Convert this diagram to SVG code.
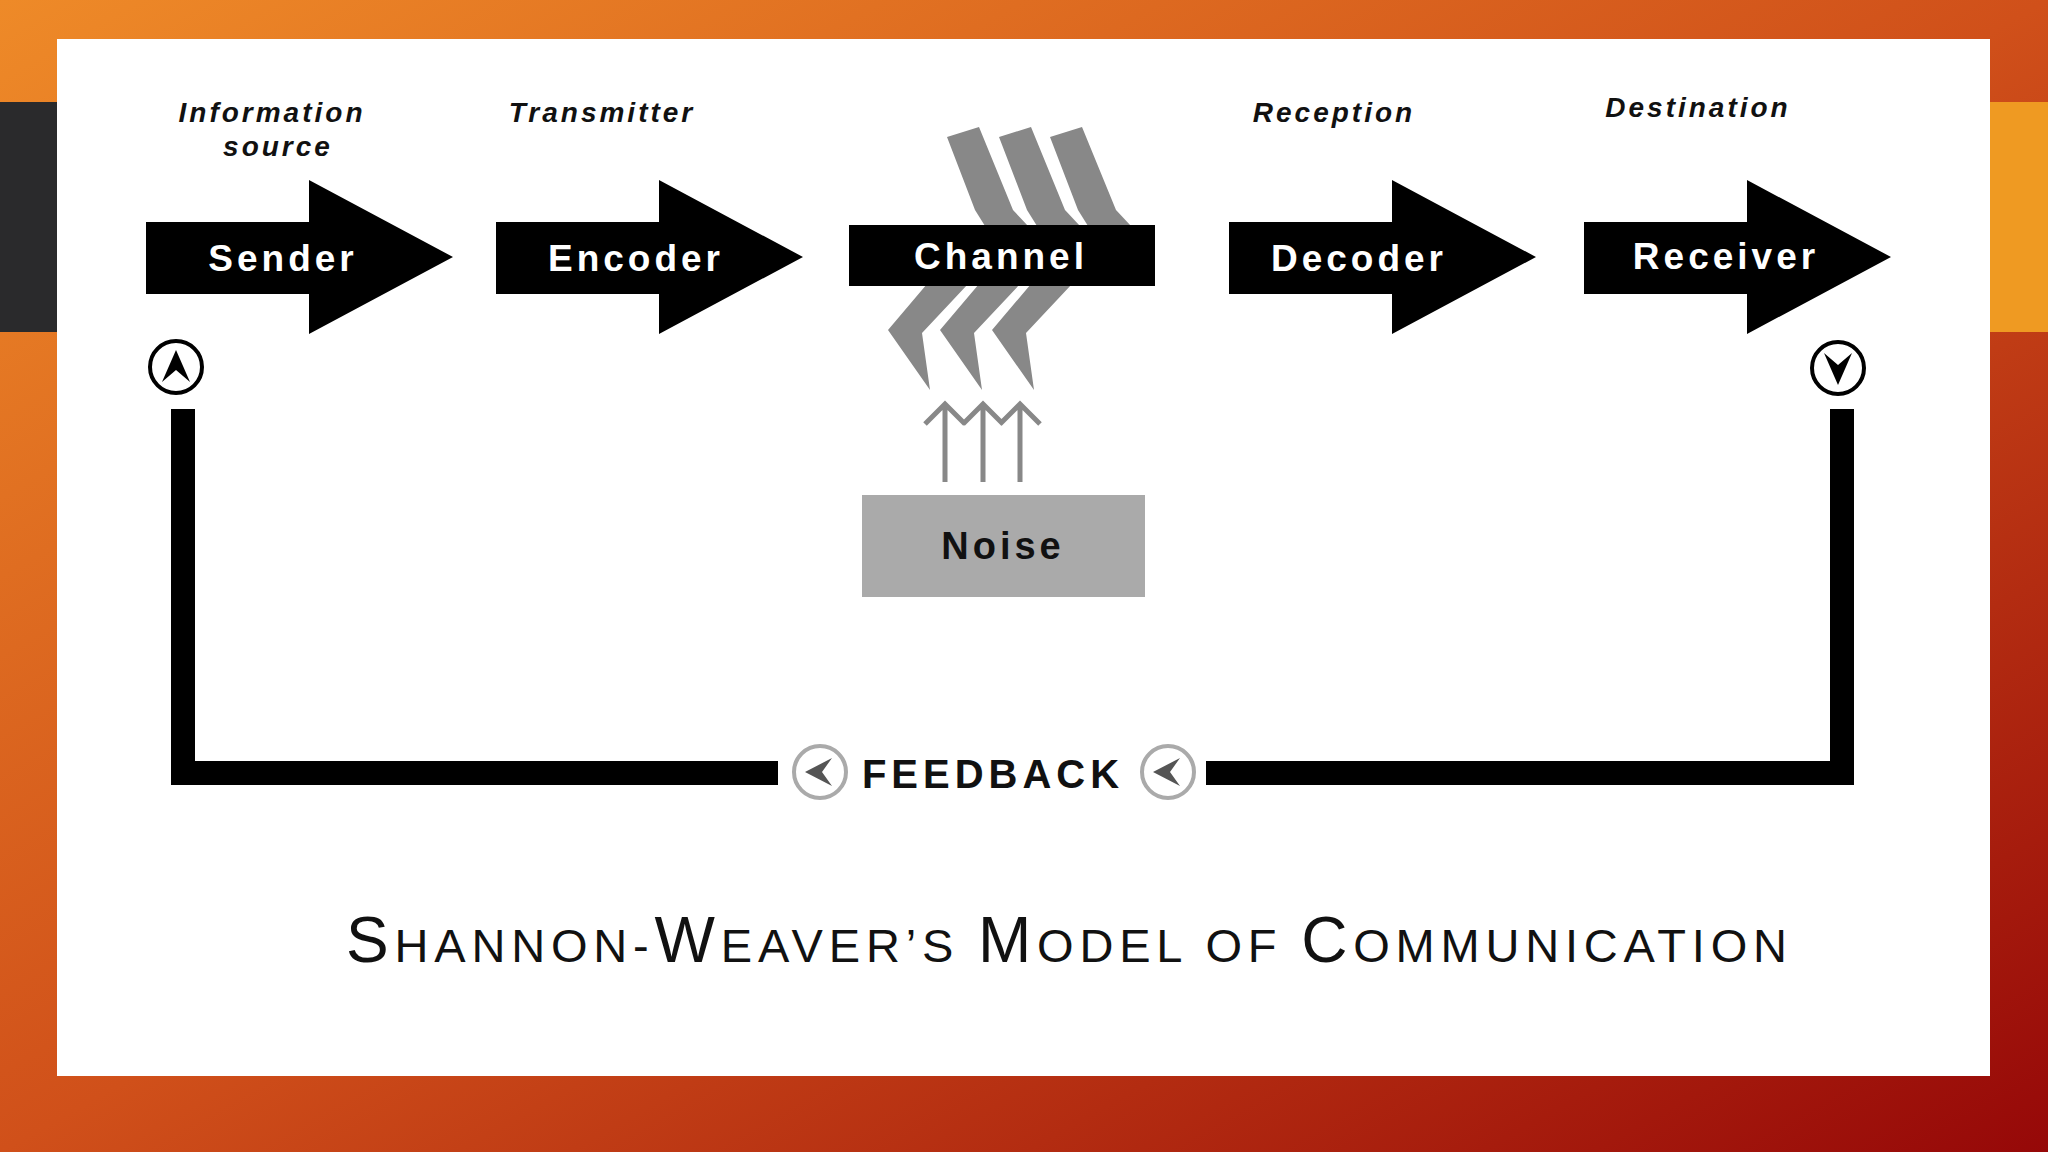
<svg xmlns="http://www.w3.org/2000/svg" width="2048" height="1152" viewBox="0 0 2048 1152">
<defs>
<linearGradient id="bg" x1="0" y1="0" x2="1" y2="1">
<stop offset="0" stop-color="#ee8a28"/><stop offset="0.5" stop-color="#d0501a"/><stop offset="1" stop-color="#960808"/>
</linearGradient>
<path id="arr" d="M0,222 H163 V180 L307,257 L163,334 V294 H0 Z" fill="#000"/>
</defs>
<style>
.lbl{font-family:"Liberation Sans",Arial,sans-serif;font-weight:bold;font-size:37px;fill:#fff;text-anchor:middle;letter-spacing:4px}
.top{font-family:"Liberation Sans",Arial,sans-serif;font-weight:bold;font-style:italic;font-size:28px;fill:#111;text-anchor:middle;letter-spacing:3px}
.bolt{fill:#888}
.na{stroke:#888;stroke-width:5;fill:none}
.fb{stroke:#000;stroke-width:24;fill:none}
</style>
<rect width="2048" height="1152" fill="url(#bg)"/>
<rect x="0" y="102" width="57" height="230" fill="#2a2a2c"/>
<rect x="1990" y="102" width="58" height="230" fill="#ef9a22"/>
<rect x="57" y="39" width="1933" height="1037" fill="#fff"/>

<g id="labels">
<text class="top" x="272" y="122">Information</text>
<text class="top" x="278" y="156">source</text>
<text class="top" x="602" y="122">Transmitter</text>
<text class="top" x="1334" y="122">Reception</text>
<text class="top" x="1698" y="117">Destination</text>
</g>

<g id="noise-bolts">
<polygon class="bolt" points="947,137 979,127 1013,210 1028,226 985,226 975,210"/>
<polygon class="bolt" points="999,137 1031,127 1065,210 1080,226 1037,226 1027,210"/>
<polygon class="bolt" points="1050,137 1082,127 1116,210 1131,226 1088,226 1078,210"/>
<polygon class="bolt" points="927,284 968,284 922,333 930,390 888,330"/>
<polygon class="bolt" points="979,284 1020,284 974,333 982,390 940,330"/>
<polygon class="bolt" points="1031,284 1072,284 1026,333 1034,390 992,330"/>
</g>

<g id="sender"><use href="#arr" x="146"/><text class="lbl" x="283" y="271">Sender</text></g>
<g id="encoder"><use href="#arr" x="496"/><text class="lbl" x="636" y="271">Encoder</text></g>
<g id="channel"><rect x="849" y="225" width="306" height="61" fill="#000"/><text class="lbl" x="1001" y="269">Channel</text></g>
<g id="decoder"><use href="#arr" x="1229"/><text class="lbl" x="1359" y="271">Decoder</text></g>
<g id="receiver"><use href="#arr" x="1584"/><text class="lbl" x="1726" y="269">Receiver</text></g>

<g id="noise">
<path class="na" d="M945,482 V404 M925,424 L945,404 L965,424 M983,482 V404 M963,424 L983,404 L1003,424 M1020,482 V404 M1000,424 L1020,404 L1040,424"/>
<rect x="862" y="495" width="283" height="102" fill="#aaa"/>
<text x="1003" y="559" font-family="Liberation Sans,Arial,sans-serif" font-weight="bold" font-size="38" letter-spacing="4" text-anchor="middle" fill="#111">Noise</text>
</g>

<g id="connectors">
<path class="fb" d="M183,409 V773 H778"/>
<path class="fb" d="M1206,773 H1842 V409"/>
<circle cx="176" cy="367" r="26" fill="#fff" stroke="#000" stroke-width="4"/>
<path d="M162,382 L176,350 L190,382 L176,370 Z" fill="#000"/>
<circle cx="1838" cy="368" r="26" fill="#fff" stroke="#000" stroke-width="4"/>
<path d="M1824,353 L1838,385 L1852,353 L1838,365 Z" fill="#000"/>
<circle cx="820" cy="772" r="26" fill="#fff" stroke="#aaa" stroke-width="4"/>
<path d="M832,758 L805,772 L832,786 L822,772 Z" fill="#555"/>
<circle cx="1168" cy="772" r="26" fill="#fff" stroke="#aaa" stroke-width="4"/>
<path d="M1180,758 L1153,772 L1180,786 L1170,772 Z" fill="#555"/>
<text x="993" y="788" font-family="Liberation Sans,Arial,sans-serif" font-weight="bold" font-size="40" letter-spacing="5" text-anchor="middle" fill="#111">FEEDBACK</text>
</g>

<text x="346" y="962" textLength="1441" lengthAdjust="spacing" font-family="Liberation Sans,Arial,sans-serif" fill="#111" font-size="47"><tspan font-size="64">S</tspan>HANNON-<tspan font-size="64">W</tspan>EAVER’S <tspan font-size="64">M</tspan>ODEL OF <tspan font-size="64">C</tspan>OMMUNICATION</text>
</svg>
